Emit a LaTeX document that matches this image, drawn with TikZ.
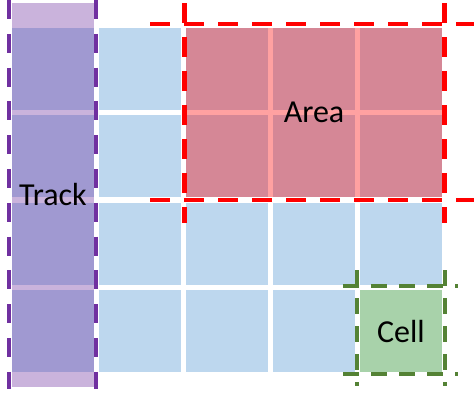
\documentclass[tikz,border=0pt]{standalone}
\usepackage{fontspec}
\setmainfont{Carlito}
\usepackage{tikz}
\usetikzlibrary{shapes}

\definecolor{cellblue}{RGB}{189,215,238}
\definecolor{trackpurple}{RGB}{112,48,160}
\definecolor{cellgreen}{RGB}{168,210,170}
\definecolor{linegreen}{RGB}{84,130,53}

\tikzset{
  cellbox/.style={shape=rectangle,fill=cellblue,minimum width=82pt,minimum height=82pt,inner sep=0pt},
  overlay/.style={shape=rectangle,inner sep=0pt,fill opacity=0.37,text opacity=1,font=\fontsize{32}{38}\selectfont},
  purpledash/.style={draw=trackpurple,line width=4pt,dash pattern=on 19pt off 14.8pt},
  reddash/.style={draw=red,line width=4.5pt,dash pattern=on 20pt off 14pt},
  greendash/.style={draw=linegreen,line width=4pt,dash pattern=on 16pt off 12pt}
}

\begin{document}
\begin{tikzpicture}[x=1pt,y=-1pt]
\useasboundingbox (0,0) rectangle (474,399);
\node[cellbox] (0) at (53,68.5) {};
\node[cellbox] (1) at (140,68.5) {};
\node[cellbox] (2) at (227,68.5) {};
\node[cellbox] (3) at (314,68.5) {};
\node[cellbox] (4) at (401,68.5) {};
\node[cellbox] (5) at (53,156) {};
\node[cellbox] (6) at (140,156) {};
\node[cellbox] (7) at (227,156) {};
\node[cellbox] (8) at (314,156) {};
\node[cellbox] (9) at (401,156) {};
\node[cellbox] (10) at (53,243.5) {};
\node[cellbox] (11) at (140,243.5) {};
\node[cellbox] (12) at (227,243.5) {};
\node[cellbox] (13) at (314,243.5) {};
\node[cellbox] (14) at (401,243.5) {};
\node[cellbox] (15) at (53,331) {};
\node[cellbox] (16) at (140,331) {};
\node[cellbox] (17) at (227,331) {};
\node[cellbox] (18) at (314,331) {};
\node[cellbox,fill=cellgreen,font=\fontsize{32}{38}\selectfont] (19) at (401,331) {Cell};

\node[overlay,fill=trackpurple,minimum width=82pt,minimum height=384pt] (20) at (53,195) {Track};
\node[overlay,fill=red,minimum width=256pt,minimum height=169.5pt] (21) at (314,112.25) {Area};

\draw[purpledash] (9,0) -- (9,389);
\draw[purpledash] (96,0) -- (96,389);

\draw[reddash] (150,24) -- (474,24);
\draw[reddash] (150,200) -- (474,200);
\draw[reddash] (184.5,3) -- (184.5,223);
\draw[reddash] (444.5,3) -- (444.5,223);

\draw[greendash] (343,286) -- (458,286);
\draw[greendash] (343,374) -- (458,374);
\draw[greendash] (357,270) -- (357,386);
\draw[greendash] (445,270) -- (445,386);
\end{tikzpicture}
\end{document}
